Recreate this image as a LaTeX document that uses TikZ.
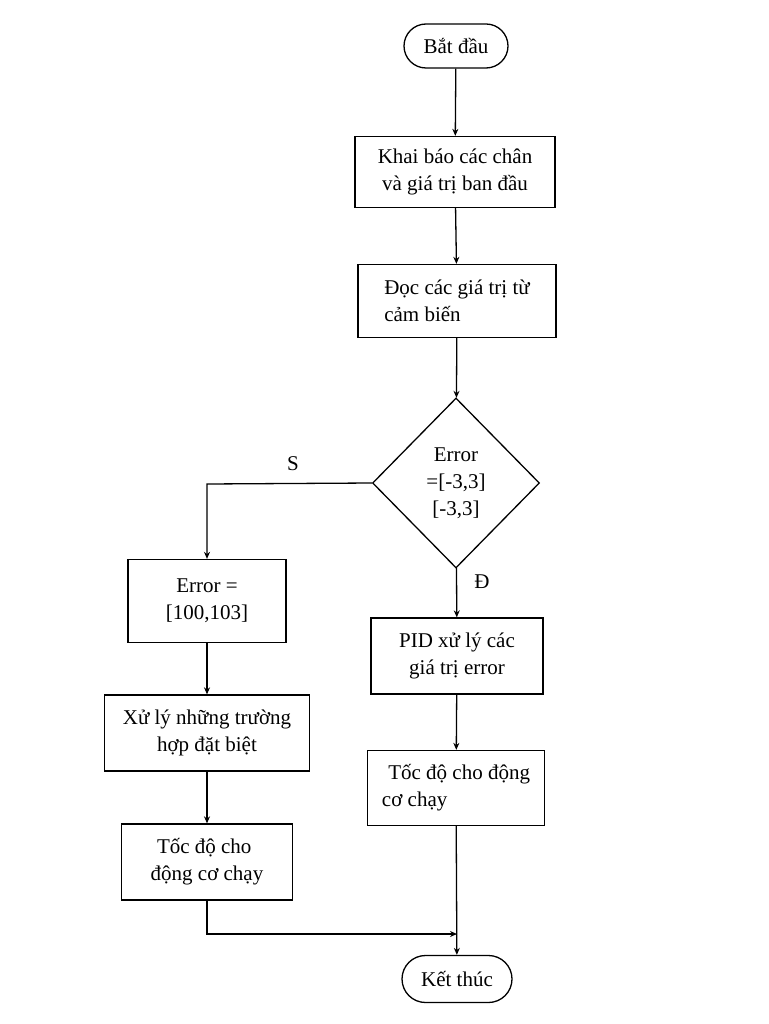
\documentclass[tikz,border=0pt]{standalone}
\usepackage{fontspec}
\setmainfont{Liberation Serif}
\usetikzlibrary{arrows.meta,shapes.geometric,shapes.misc,positioning}
\begin{document}
\begin{tikzpicture}[x=1pt,y=-1pt,font=\fontsize{21}{27}\selectfont,line width=1.3pt]
\tikzstyle{box}=[draw, rectangle, inner sep = 2 pt, align=center]
\tikzstyle{term}=[draw, rounded rectangle, inner sep = 2 pt]
\tikzstyle{arr}=[-{Stealth[length=7pt,width=6pt]}]
\useasboundingbox (0,0) rectangle (768,1024);

\node[term, minimum width=108pt, minimum height=44pt] (start) at (456,46) {Bắt đầu};
\node[box, minimum width=200pt, minimum height=71pt] (init) at (455,172) {Khai báo các chân\\và giá trị ban đầu};
\node[box, minimum width=198pt, minimum height=73pt, align=left] (read) at (457,301) {Đọc các giá trị từ\\cảm biến\hspace{2.5em}};
\node[draw, diamond, minimum width=167pt, minimum height=170pt, inner sep=0pt, align=center] (chk) at (456,483) {Error\\=[-3,3]\\{}[-3,3]};
\node[box, minimum width=158pt, minimum height=83pt] (err) at (207,601) {Error =\\{}[100,103]};
\node[box, minimum width=205pt, minimum height=76pt] (spec) at (207,733) {Xử lý những trường\\hợp đặt biệt};
\node[box, minimum width=171pt, minimum height=76pt, align=left] (spdL) at (207,862) {\hspace{0.3em}Tốc độ cho\hspace{1.5em}\\động cơ chạy};
\node[box, minimum width=172pt, minimum height=76pt] (pid) at (457,656) {PID xử lý các\\giá trị error};
\node[box, minimum width=177pt, minimum height=75pt, align=left] (spdR) at (456,788) {\hspace{0.3em}Tốc độ cho động\\cơ chạy\hspace{4em}};
\node[term, minimum width=114pt, minimum height=47pt] (stop) at (457,979) {Kết thúc};
\node (s) at (293,464) {S};
\node (d) at (482,582) {Đ};
\coordinate (join) at (457,934);

\draw[arr] (start) -- (init);
\draw[arr] (init) -- (read);
\draw[arr] (read) -- (chk);
\draw[arr] (chk.west) -- (207,484) -- (err);
\draw[arr] (chk) -- (pid);
\draw[arr] (err) -- (spec);
\draw[arr] (spec) -- (spdL);
\draw[arr] (spdL) |- (join);
\draw[arr] (pid) -- (spdR);
\draw[arr] (spdR) -- (stop);
\end{tikzpicture}
\end{document}
